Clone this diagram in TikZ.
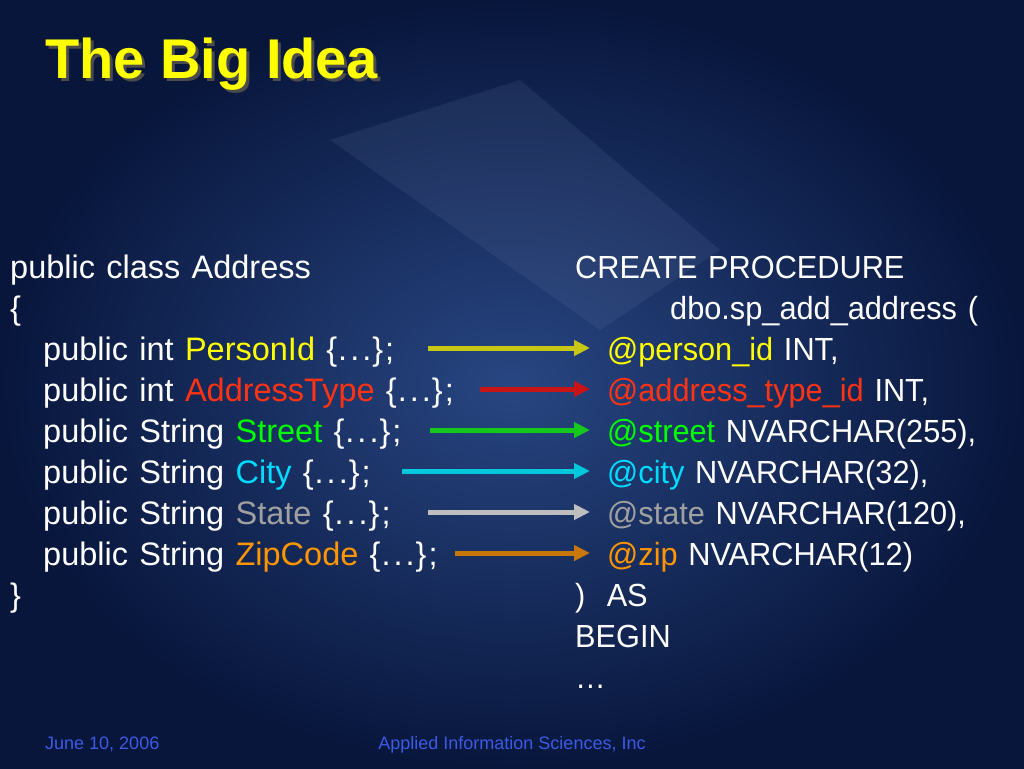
\documentclass[tikz,border=0pt]{standalone}
\usepackage{fontspec}
\setmainfont{Liberation Sans}
\newfontfamily\codefont{Liberation Sans}[WordSpace=1.25,FakeStretch=0.96]
\newfontfamily\leftfont{Liberation Sans}[WordSpace=1.25]
\newcommand{\bdots}{\{\kern1pt\hbox{.}\kern3pt\hbox{.}\kern3pt\hbox{.}\kern1pt\}\kern2pt;}
\usetikzlibrary{arrows.meta}
\definecolor{bgA}{RGB}{40,70,130}
\definecolor{bgB}{RGB}{8,22,60}
\definecolor{cY}{RGB}{255,255,0}
\definecolor{cR}{RGB}{255,50,20}
\definecolor{cG}{RGB}{0,255,0}
\definecolor{cC}{RGB}{0,220,255}
\definecolor{cS}{RGB}{160,160,160}
\definecolor{cO}{RGB}{255,150,0}
\definecolor{aY}{RGB}{200,200,20}
\definecolor{aR}{RGB}{200,20,20}
\definecolor{aG}{RGB}{20,200,30}
\definecolor{aC}{RGB}{0,200,220}
\definecolor{aS}{RGB}{190,190,190}
\definecolor{aO}{RGB}{200,120,10}
\definecolor{foot}{RGB}{60,90,230}
\begin{document}
\begin{tikzpicture}[x=1pt,y=-1pt,
  code/.style={anchor=base west,inner sep=0pt,text=white,font=\codefont\fontsize{32}{34}\selectfont},
  lcode/.style={anchor=base west,inner sep=0pt,text=white,font=\leftfont\fontsize{32.5}{34}\selectfont},
  arr/.style={line width=5pt,-{Triangle[length=16pt,width=15pt]}},
  ft/.style={text=foot,font=\fontsize{18}{20}\selectfont,inner sep=0pt}]
\useasboundingbox (0,0) rectangle (1024,768);
\shade[inner color=bgA,outer color=bgB] (0,0) rectangle (1024,768);
\fill[bgA!70!white,opacity=0.15] (330,140) -- (520,80) -- (720,250) -- (600,330) -- cycle;
\node[anchor=base west,inner sep=0pt,text=cY,font=\bfseries\fontsize{56}{58}\selectfont] (title) at (45,78) {\rlap{\hspace{3pt}\raisebox{-3pt}{\textcolor{black!70}{The Big Idea}}}The Big Idea};
\node[lcode] (l1) at (10,278) {public class Address};
\node[lcode] (l2) at (10,319) {\{};
\node[lcode] (l3) at (43,360) {public int \textcolor{cY}{PersonId} \bdots};
\node[lcode] (l4) at (43,401) {public int \textcolor{cR}{AddressType} \bdots};
\node[lcode] (l5) at (43,442) {public String \textcolor{cG}{Street} \bdots};
\node[lcode] (l6) at (43,483) {public String \textcolor{cC}{City} \bdots};
\node[lcode] (l7) at (43,524) {public String \textcolor{cS}{State} \bdots};
\node[lcode] (l8) at (43,565) {public String \textcolor{cO}{ZipCode} \bdots};
\node[lcode] (l9) at (10,606) {\}};
\node[code] (r1) at (575,278) {CREATE PROCEDURE};
\node[code] (r2) at (670,319) {dbo.sp\_add\_address (};
\node[code] (r3) at (607,360) {\textcolor{cY}{@person\_id} INT,};
\node[code] (r4) at (607,401) {\textcolor{cR}{@address\_type\_id} INT,};
\node[code] (r5) at (607,442) {\textcolor{cG}{@street} NVARCHAR(255),};
\node[code] (r6) at (607,483) {\textcolor{cC}{@city} NVARCHAR(32),};
\node[code] (r7) at (607,524) {\textcolor{cS}{@state} NVARCHAR(120),};
\node[code] (r8) at (607,565) {\textcolor{cO}{@zip} NVARCHAR(12)};
\node[code] (r9) at (575,606) {)\ \ AS};
\node[code] (r10) at (575,647) {BEGIN};
\node[code] (r11) at (575,688) {\dots};
\draw[arr,aY] (428,348) -- (590,348);
\draw[arr,aR] (480,389) -- (590,389);
\draw[arr,aG] (430,430) -- (590,430);
\draw[arr,aC] (402,471) -- (590,471);
\draw[arr,aS] (428,512) -- (590,512);
\draw[arr,aO] (455,553) -- (590,553);
\node[ft,anchor=base west] (f1) at (45,749) {June 10, 2006};
\node[ft,anchor=base] (f2) at (512,749) {Applied Information Sciences, Inc};
\end{tikzpicture}
\end{document}
